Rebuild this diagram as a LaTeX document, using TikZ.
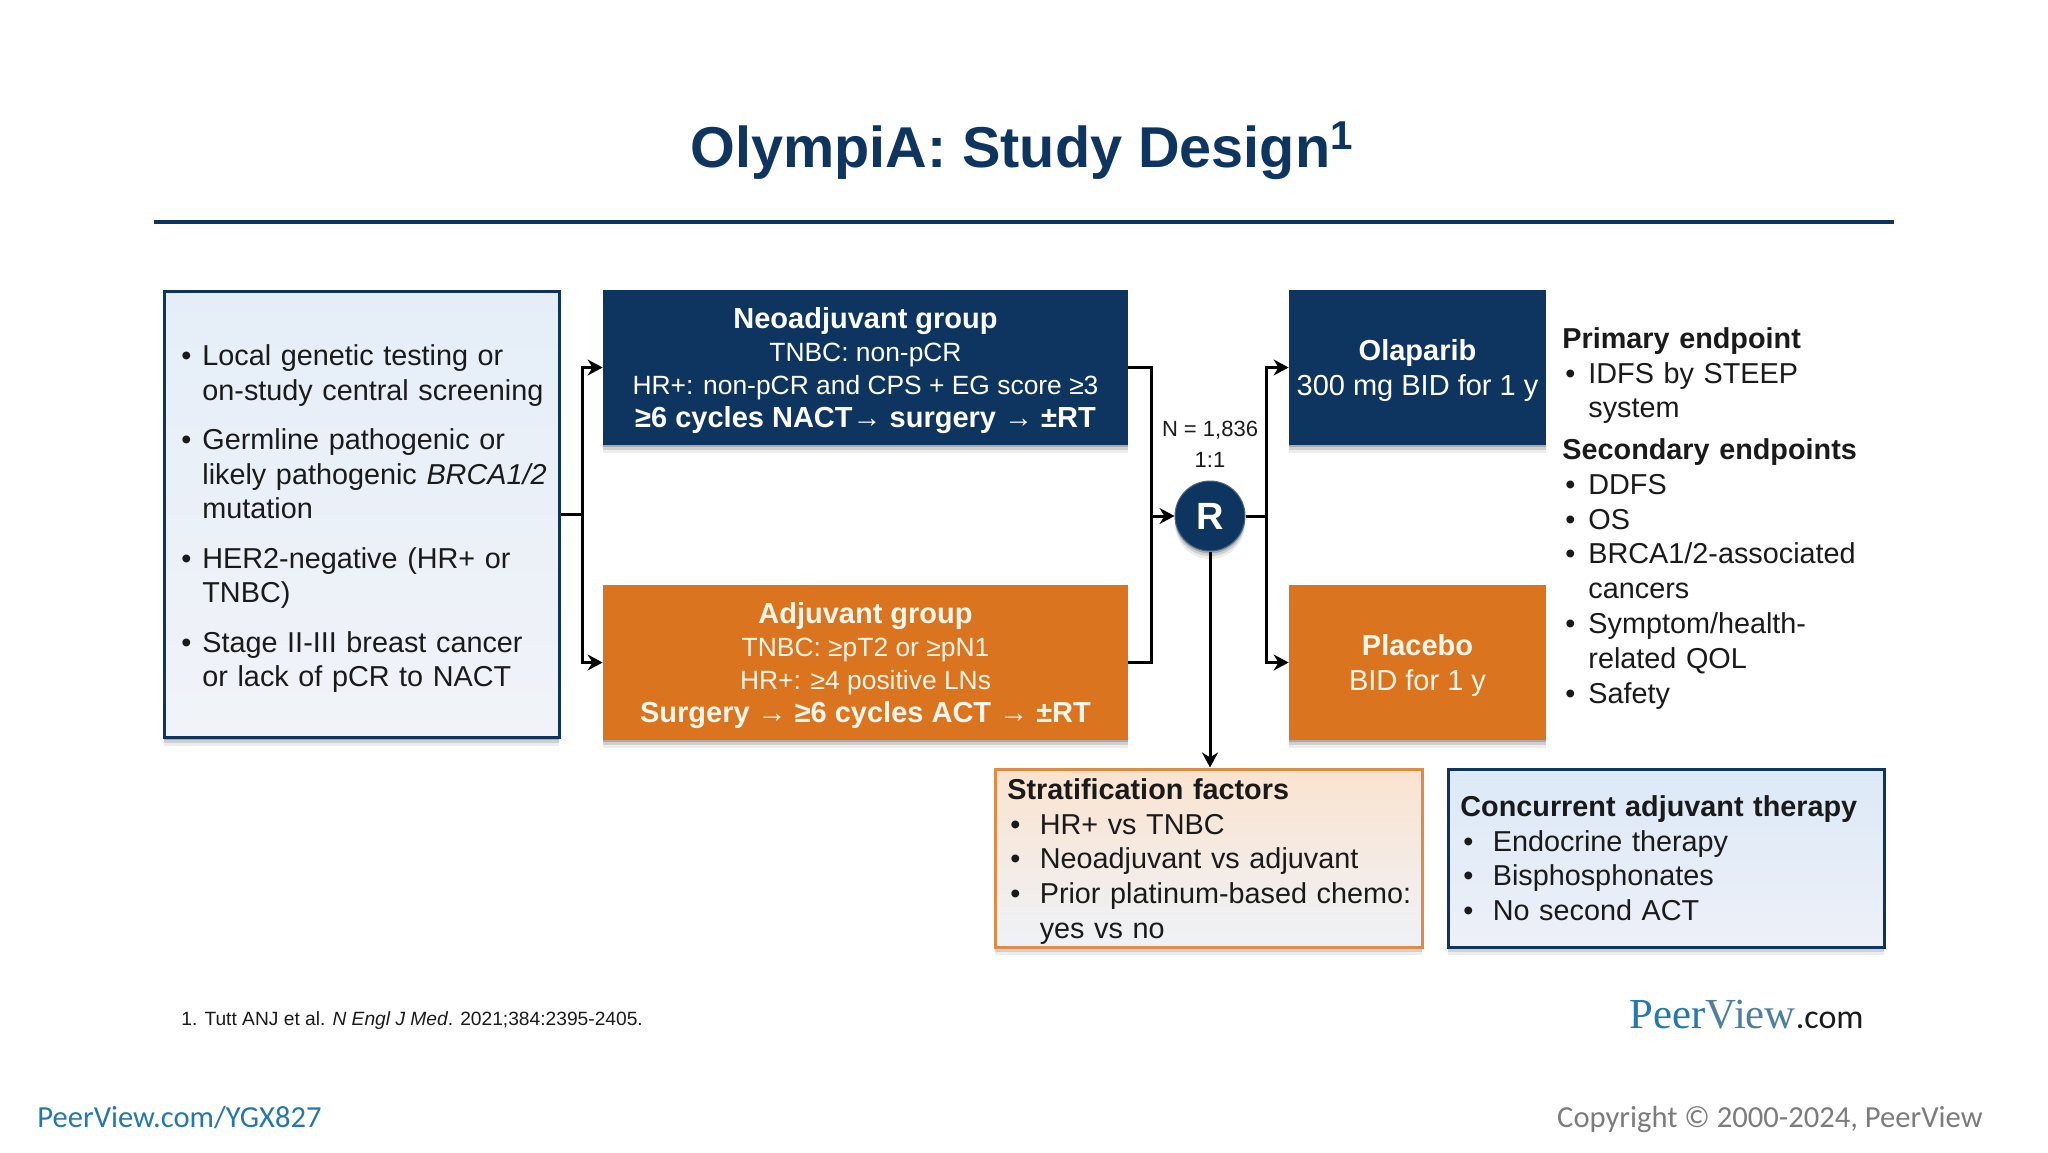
\documentclass[tikz,border=0pt]{standalone}
\usepackage{fontspec}
\setmainfont{Liberation Sans}
\newfontfamily\serifpv{Liberation Serif}
\newfontfamily\urlfont{Carlito}
\usetikzlibrary{arrows.meta,shadows}
\definecolor{navy}{HTML}{0E3560}
\definecolor{orng}{HTML}{DA741F}
\definecolor{txt}{HTML}{1A1A1A}
\definecolor{linkblue}{HTML}{2478AE}
\definecolor{viewblue}{HTML}{4F7F9F}
\definecolor{cgrey}{HTML}{7C7C7C}
\definecolor{eligtop}{HTML}{E5EEF8}
\definecolor{eligbot}{HTML}{F1F3F8}
\definecolor{conctop}{HTML}{DCE9F7}
\definecolor{concbot}{HTML}{EDF0F8}
\definecolor{strattop}{HTML}{FBE3CF}
\definecolor{stratbot}{HTML}{EEF2F8}
\definecolor{orngedge}{HTML}{E08A45}
\newcommand\bul[2]{\par\hangindent=#1\hangafter=1\noindent\makebox[#1][l]{\hspace{1.5pt}•}{\let\\\newline #2}\par}
\newcommand\hdg[1]{\par\noindent\textbf{#1}\par}
\newcommand\firstline{\rule{0pt}{13.5pt}}
\tikzset{
  softshadow/.style={
    general shadow={shadow xshift=0pt,shadow yshift=-4pt,fill=black,opacity=.07},
    general shadow={shadow xshift=0pt,shadow yshift=-2.5pt,fill=black,opacity=.12},
    general shadow={shadow xshift=0pt,shadow yshift=-1.2pt,fill=black,opacity=.18}},
  solidbox/.style={rectangle,softshadow,inner sep=0pt,align=center,text=white,font=\fontsize{13.2}{16.4}\selectfont},
  navybox/.style={solidbox,fill=navy},
  orangebox/.style={solidbox,fill=orng,text=orange!8!white},
  panel/.style={rectangle,softshadow,line width=1.5pt,inner sep=0pt},
  bluepanel/.style 2 args={panel,draw=navy,top color=#1,bottom color=#2},
  orangepanel/.style={panel,draw=orngedge,top color=strattop,bottom color=stratbot},
  body/.style={anchor=north west,inner sep=0pt,text=txt,align=left,font=\fontsize{14.4}{17.4}\selectfont},
  link/.style={line width=1.5pt,draw=black},
  arrowlink/.style={link,-{Stealth[length=7.5pt,width=8pt]}},
  rnode/.style={circle,fill=navy,draw=navy!75!white,line width=.5pt,softshadow,minimum size=35pt,inner sep=0pt,text=white,font=\fontsize{19}{22}\selectfont\bfseries},
  small/.style={inner sep=0pt,text=txt}
}
\begin{document}
\begin{tikzpicture}[x=0.5pt,y=-0.5pt]
\useasboundingbox (0,0) rectangle (2048,1152);
\fill[white] (0,0) rectangle (2048,1152);
% title
\node[inner sep=0pt,text=navy,font=\fontsize{28.8}{34}\selectfont\bfseries] (title) at (1022,151) {OlympiA: Study Design\textsuperscript{1}};
\coordinate (ruleL) at (154,222);
\coordinate (ruleR) at (1894,222);
\draw[navy,line width=2pt] (ruleL) -- (ruleR);
% boxes
\node[bluepanel={eligtop}{eligbot},minimum width=197.5pt,minimum height=223pt] (elig) at (361.5,514.5) {};
\node[navybox,minimum width=262.5pt,minimum height=77.5pt] (neo) at (865.5,367.5) {%
  \firstline\textbf{\fontsize{14.5}{16.4}\selectfont Neoadjuvant group}\\
  TNBC: non-pCR\\
  HR+: non-pCR and CPS + EG score ≥3\\
  \textbf{\fontsize{14.5}{16.4}\selectfont ≥6 cycles NACT→ surgery → ±RT}};
\node[orangebox,minimum width=262.5pt,minimum height=77.5pt] (adj) at (865.5,662.5) {%
  \firstline\textbf{\fontsize{14.5}{16.4}\selectfont Adjuvant group}\\
  TNBC: ≥pT2 or ≥pN1\\
  HR+: ≥4 positive LNs\\
  \textbf{\fontsize{14.5}{16.4}\selectfont Surgery → ≥6 cycles ACT → ±RT}};
\node[navybox,minimum width=128.5pt,minimum height=77.5pt,font=\fontsize{14.5}{17.35}\selectfont] (ola) at (1417.5,367.5) {\firstline\textbf{Olaparib}\\300 mg BID for 1 y};
\node[orangebox,minimum width=128.5pt,minimum height=77.5pt,font=\fontsize{14.5}{17.35}\selectfont] (pla) at (1417.5,662.5) {\firstline\textbf{Placebo}\\BID for 1 y};
\node[rnode] (R) at (1210,516) {R};
\node[orangepanel,minimum width=213.5pt,minimum height=89pt] (strat) at (1208.5,858) {};
\node[bluepanel={conctop}{concbot},minimum width=218pt,minimum height=89pt] (conc) at (1666,858) {};
% box texts
\node[body,text width=190pt] (eligtext) at (178,330) {%
  \bul{12pt}{Local genetic testing or\\on-study central screening}\vspace{7.2pt}
  \bul{12pt}{Germline pathogenic or\\likely pathogenic \textit{BRCA1/2}\\mutation}\vspace{7.2pt}
  \bul{12pt}{HER2-negative (HR+ or\\TNBC)}\vspace{7.2pt}
  \bul{12pt}{Stage II-III breast cancer\\or lack of pCR to NACT}};
\node[body,text width=190pt] (endp) at (1562,313) {%
  \hdg{Primary endpoint}
  \bul{13pt}{IDFS by STEEP\\system}\vspace{3.4pt}
  \hdg{Secondary endpoints}
  \bul{13pt}{DDFS}
  \bul{13pt}{OS}
  \bul{13pt}{BRCA1/2-associated\\cancers}
  \bul{13pt}{Symptom/health-\\related QOL}
  \bul{13pt}{Safety}};
\node[body,text width=205pt] (strattext) at (1007,764) {%
  \hdg{Stratification factors}
  \bul{16.2pt}{HR+ vs TNBC}
  \bul{16.2pt}{Neoadjuvant vs adjuvant}
  \bul{16.2pt}{Prior platinum-based chemo:\\yes vs no}};
\node[body,text width=210pt] (conctext) at (1460,781) {%
  \hdg{Concurrent adjuvant therapy}
  \bul{16.2pt}{Endocrine therapy}
  \bul{16.2pt}{Bisphosphonates}
  \bul{16.2pt}{No second ACT}};
\node[small,font=\fontsize{11}{13}\selectfont] (nlabel) at (1210,430) {N = 1,836};
\node[small,font=\fontsize{11}{13}\selectfont] (ratio) at (1210,460) {1:1};
% connectors
\coordinate (jL) at (582,514.5);
\coordinate (jM) at (1151,516);
\coordinate (jR) at (1266,516);
\draw[link] (elig.east) -- (jL);
\draw[arrowlink] (jL) |- (neo.west);
\draw[arrowlink] (jL) |- (adj.west);
\draw[link] (neo.east) -| (jM);
\draw[link] (adj.east) -| (jM);
\draw[arrowlink] (jM) -- (R.west);
\draw[link] (R.east) -- (jR);
\draw[arrowlink] (jR) |- (ola.west);
\draw[arrowlink] (jR) |- (pla.west);
\draw[arrowlink] (R.south) -- (R.south |- strat.north);
% footer
\node[anchor=base west,inner sep=0pt,text=txt,font=\fontsize{9.6}{12}\selectfont] (ref) at (181,1025) {1. Tutt ANJ et al. \textit{N Engl J Med}. 2021;384:2395-2405.};
\node[anchor=base east,inner sep=0pt,font=\fontsize{21.4}{25}\selectfont] (logo) at (1864,1028) {{\serifpv\textcolor{linkblue}{Peer}\textcolor{viewblue}{View}}\textcolor{txt}{\urlfont\fontsize{17}{20}\selectfont.com}};
\node[anchor=base west,inner sep=0pt,text=linkblue,font=\urlfont\fontsize{15.3}{18}\selectfont] (url) at (37,1127) {PeerView.com/YGX827};
\node[anchor=base east,inner sep=0pt,text=cgrey,font=\urlfont\fontsize{15.3}{18}\selectfont] (copy) at (1983,1127) {Copyright © 2000-2024, PeerView};
\end{tikzpicture}
\end{document}
